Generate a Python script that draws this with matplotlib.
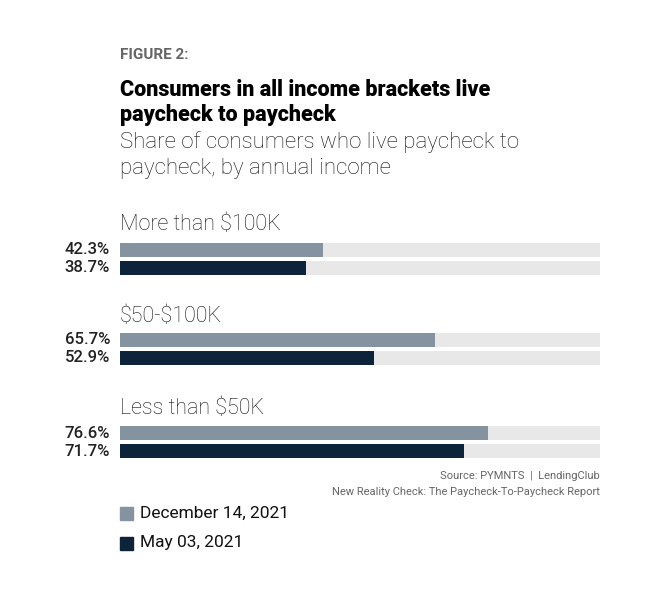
import matplotlib
matplotlib.use("Agg")
import matplotlib.pyplot as plt

plt.rcParams['font.family'] = ['Roboto', 'DejaVu Sans']
plt.rcParams['text.parse_math'] = False

groups = ["More than $100K", "$50-$100K", "Less than $50K"]
dec_2021 = [42.3, 65.7, 76.6]
may_2021 = [38.7, 52.9, 71.7]
series_names = ["December 14, 2021", "May 03, 2021"]
colors = ["#8593a0", "#0d2339"]
track = "#e8e8e8"

W, H = 668, 605
fig = plt.figure(figsize=(W/100, H/100), dpi=100)

def fy(p): return 1 - p/H
def fx(p): return p/W

ax = fig.add_axes([fx(120), fy(470), 480/W, 270/H])
ax.set_xlim(0, 100)
ax.set_ylim(270, 0)
ax.axis('off')

group_top = [50, 140, 233]
label_y = [225, 316, 409]
bh = 14
for i, g in enumerate(groups):
    for j, vals in enumerate([dec_2021, may_2021]):
        yc = group_top[i] + j*18
        ax.barh(yc, 100, height=bh, color=track, left=0)
        ax.barh(yc, vals[i], height=bh, color=colors[j], left=0)
        fig.text(fx(110), fy(yc+200), f"{vals[i]}%", ha='right', va='center',
                 fontsize=12, color='#222222', fontweight='medium')
    fig.text(fx(120), fy(label_y[i]), g, ha='left', va='center', fontsize=15.5, color='#111111', fontweight='light')

fig.text(fx(120), fy(55), "FIGURE 2:", fontsize=11, fontweight='bold', color='#666666', va='center')
fig.text(fx(120), fy(90), "Consumers in all income brackets live", fontsize=15.5, fontweight='black', color='#000000', va='center')
fig.text(fx(120), fy(115), "paycheck to paycheck", fontsize=15.5, fontweight='black', color='#000000', va='center')
fig.text(fx(120), fy(142), "Share of consumers who live paycheck to", fontsize=16, fontweight='light', color='#111111', va='center')
fig.text(fx(120), fy(168), "paycheck, by annual income", fontsize=16, fontweight='light', color='#111111', va='center')

fig.text(fx(600), fy(476), "Source: PYMNTS  |  LendingClub", fontsize=8, color='#666666', ha='right', va='center')
fig.text(fx(600), fy(492), "New Reality Check: The Paycheck-To-Paycheck Report", fontsize=8, color='#666666', ha='right', va='center')

for k, (name, c) in enumerate(zip(series_names, colors)):
    yy = 513 + 30*k
    fig.patches.append(plt.Rectangle((fx(120), fy(yy+7)), 13/W, 13/H, color=c, transform=fig.transFigure))
    fig.text(fx(140), fy(yy), name, fontsize=12.5, color='#111111', va='center')

fig.savefig("out.png", dpi=100, facecolor='white')
